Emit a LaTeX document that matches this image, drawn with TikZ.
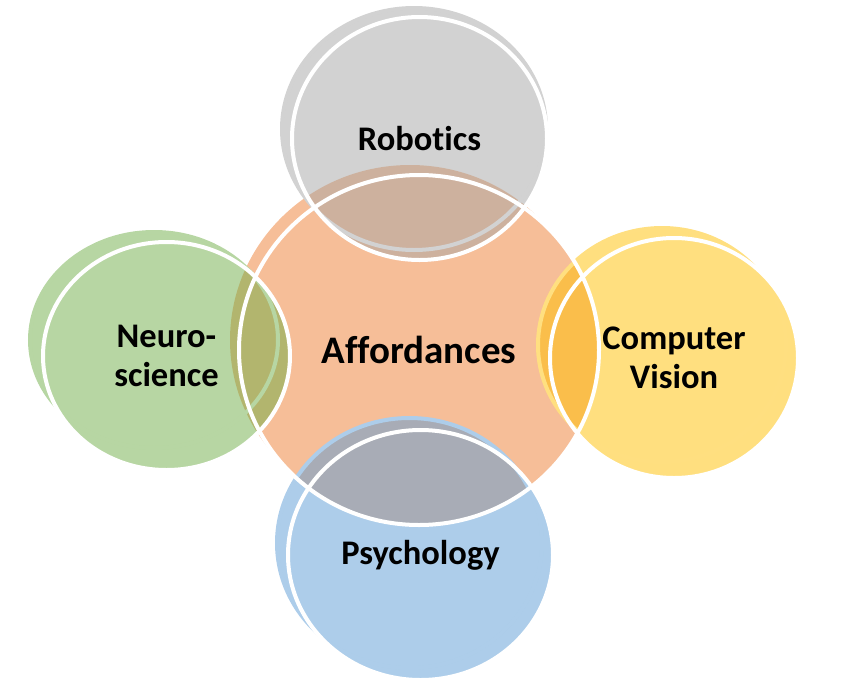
\documentclass[tikz,border=0pt]{standalone}
\usepackage{fontspec}
\setmainfont{Carlito}[Ligatures=NoCommon]
\usetikzlibrary{shapes.geometric}
\definecolor{affo}{HTML}{ED7D31}
\definecolor{robo}{HTML}{A5A5A5}
\definecolor{neur}{HTML}{70AD47}
\definecolor{cvis}{HTML}{FFC000}
\definecolor{psyc}{HTML}{5B9BD5}

\begin{document}
\begin{tikzpicture}[x=1pt,y=-1pt,
		blob/.style={fill=#1,fill opacity=.5},
		rim/.style={draw=#1!50!white,line width=4pt},
		topic/.style={ellipse,draw=white,line width=4pt,inner sep=0pt,align=center,
			font=\bfseries\fontsize{34.5}{39}\selectfont}]
		\useasboundingbox (0,0) rectangle (846,691);
		% fills, front and back sketch together
		\fill [blob=affo] (418,350) ellipse [x radius=180pt,y radius=175pt]
			(410,340) ellipse [x radius=180pt,y radius=175pt];
		\fill [blob=robo] (419.5,138.5) ellipse [x radius=127.5pt,y radius=121.5pt]
			(414,129) ellipse [x radius=132pt,y radius=121pt];
		\fill [blob=neur] (166.5,356) ellipse [x radius=123.5pt,y radius=114pt]
			(154,340) ellipse [x radius=124pt,y radius=108pt];
		\fill [blob=cvis] (674,358) ellipse [x radius=124pt,y radius=120pt]
			(662,345) ellipse [x radius=124pt,y radius=117pt];
		\fill [blob=psyc] (420.5,555) ellipse [x radius=132.5pt,y radius=125pt]
			(409.5,543) ellipse [x radius=132.5pt,y radius=125pt];
		% back rims
		\draw [rim=robo] (414,129) ellipse [x radius=132pt,y radius=121pt];
		\draw [rim=neur] (154,340) ellipse [x radius=124pt,y radius=108pt];
		\draw [rim=cvis] (662,345) ellipse [x radius=124pt,y radius=117pt];
		\draw [rim=psyc] (409.5,543) ellipse [x radius=132.5pt,y radius=125pt];
		% topics
		\node [topic,minimum width=360pt,minimum height=350pt,
			font=\bfseries\fontsize{39}{44}\selectfont] (aff) at (419,350) {Affordances};
		\node [topic,minimum width=255pt,minimum height=243pt] (rob) at (419.5,138.5) {Robotics};
		\node [topic,minimum width=247pt,minimum height=228pt] (neu) at (166.5,356) {Neuro-\\science};
		\node [topic,minimum width=248pt,minimum height=240pt] (cv) at (674,358) {Computer\\Vision};
		\node [topic,minimum width=265pt,minimum height=250pt] (psy) at (420.5,555) {Psychology};
\end{tikzpicture}
\end{document}
